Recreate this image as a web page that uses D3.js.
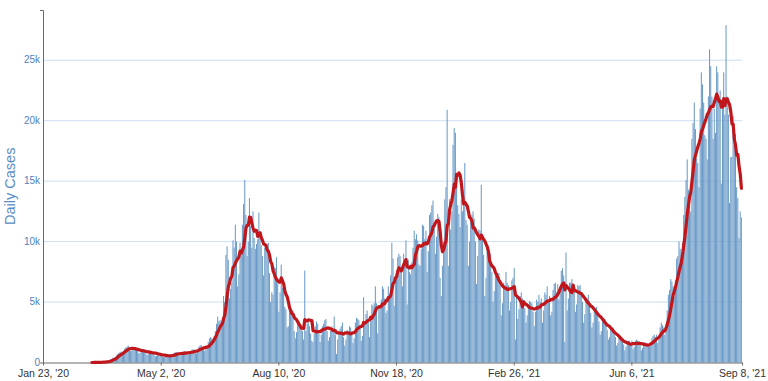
<!DOCTYPE html>
<html>
<head>
<meta charset="utf-8">
<title>Daily Cases</title>
<script src="https://cdn.jsdelivr.net/npm/d3@7"></script>
<style>
  body { margin: 0; background: #fff; }
  text { font-family: "Liberation Sans", Arial, sans-serif; }
</style>
</head>
<body>
<svg id="chart" width="768" height="381"></svg>
<script>

// first day with reported cases, values below are one per day from here
var startDate = "2020-03-01";

// daily cases, in thousands (one row = one week, Sun..Sat)
var dailyCasesK = [
  0, 0, 0, 0, 0.01, 0.01, 0.01,
  0.01, 0.01, 0.02, 0.03, 0.03, 0.04, 0.05,
  0.05, 0.07, 0.1, 0.12, 0.17, 0.24, 0.3,
  0.4, 0.35, 0.45, 0.6, 0.7, 0.8, 0.85,
  0.9, 0.75, 0.95, 1.15, 1.25, 1.3, 1.4,
  1.1, 0.95, 1.0, 1.2, 1.15, 1.2, 1.1,
  1.0, 0.75, 0.8, 1.05, 1.0, 1.1, 0.95,
  0.75, 0.6, 0.7, 0.9, 0.85, 0.95, 0.85,
  0.65, 0.5, 0.55, 0.75, 0.7, 0.75, 0.65,
  0.5, 0.45, 0.45, 0.6, 0.6, 0.65, 0.6,
  0.55, 0.5, 0.55, 0.8, 0.85, 0.85, 0.8,
  0.7, 0.55, 0.65, 0.85, 0.9, 0.95, 0.85,
  0.8, 0.65, 0.7, 0.95, 1.05, 1.1, 1.05,
  1.0, 0.75, 0.9, 1.3, 1.4, 1.45, 1.3,
  1.3, 0.95, 1.1, 1.4, 1.7, 2.0, 2.1,
  2.0, 1.8, 2.2, 2.6, 3.2, 3.8, 3.4,
  3.5, 2.9, 3.3, 5.5, 5.0, 8.9, 9.6,
  8.5, 5.3, 6.1, 6.6, 10.1, 9.5, 11.4,
  10.0, 6.3, 7.3, 9.9, 8.9, 11.4, 13.1,
  15.1, 12.2, 8.8, 10.0, 13.6, 11.3, 9.5,
  12.5, 10.3, 9.4, 9.8, 10.2, 12.4, 10.5,
  9.7, 8.8, 7.2, 9.5, 9.6, 9.8, 9.9,
  7.4, 5.0, 5.8, 5.6, 7.9, 7.8, 8.7,
  6.5, 4.2, 5.8, 8.1, 6.2, 6.1, 4.6,
  4.4, 2.9, 3.0, 4.6, 4.5, 4.3, 4.3,
  2.6, 2.0, 2.5, 3.3, 3.3, 3.2, 3.0,
  2.6, 1.9, 7.6, 2.6, 3.2, 3.7, 3.0,
  2.4, 1.8, 1.7, 2.4, 3.0, 3.4, 3.2,
  2.4, 1.7, 2.3, 3.0, 3.2, 3.5, 3.6,
  2.6, 1.8, 2.1, 2.6, 3.0, 2.8, 3.8,
  2.3, 0.7, 1.9, 2.6, 2.8, 3.0, 3.3,
  2.1, 1.4, 1.9, 2.7, 2.6, 3.0, 2.9,
  2.5, 1.6, 2.0, 3.3, 3.7, 3.6, 3.5,
  3.0, 1.8, 2.2, 5.4, 3.3, 4.0, 4.3,
  3.4, 2.1, 3.7, 4.8, 4.7, 4.9, 6.3,
  4.9, 2.4, 4.4, 4.5, 5.2, 6.3, 6.1,
  5.3, 4.1, 4.3, 6.3, 5.4, 7.2, 9.9,
  8.6, 4.7, 6.9, 7.0, 8.7, 9.0, 8.8,
  7.9, 6.3, 9.0, 8.5, 10.1, 4.8, 8.5,
  7.5, 7.3, 8.3, 9.5, 10.9, 10.2, 10.6,
  10.1, 8.1, 8.0, 9.4, 11.4, 11.3, 10.2,
  10.9, 7.5, 9.2, 12.2, 12.4, 13.0, 13.4,
  11.6, 9.0, 10.4, 12.3, 12.0, 7.0, 5.5,
  8.0, 10.0, 13.5, 14.5, 20.9, 8.0, 13.5,
  11.0, 12.5, 18.0, 19.4, 19.0, 15.5, 13.0,
  12.3, 11.2, 13.5, 12.5, 13.8, 16.5, 11.8,
  11.4, 8.0, 10.0, 12.0, 12.2, 12.5, 11.9,
  10.0, 6.5, 8.8, 11.0, 10.9, 14.7, 10.5,
  8.9, 5.5, 7.0, 9.5, 8.4, 9.0, 9.0,
  7.5, 5.0, 5.9, 7.3, 7.1, 7.4, 7.4,
  6.4, 3.9, 4.9, 6.6, 6.4, 7.5, 6.6,
  6.4, 4.3, 5.0, 6.8, 7.0, 7.8, 1.9,
  5.7, 3.6, 4.4, 5.5, 5.8, 5.3, 4.9,
  4.5, 3.3, 3.9, 4.8, 5.1, 5.0, 4.9,
  4.2, 3.0, 4.2, 5.2, 5.0, 5.6, 5.0,
  5.3, 3.3, 4.3, 5.8, 5.6, 6.3, 5.1,
  5.5, 3.9, 4.2, 6.0, 6.5, 6.6, 5.8,
  6.5, 5.2, 6.0, 7.6, 7.8, 7.2, 1.7,
  9.1, 4.3, 5.3, 6.6, 6.6, 6.9, 6.0,
  6.0, 4.2, 4.8, 6.4, 6.3, 6.4, 5.8,
  5.0, 3.3, 4.0, 5.3, 5.3, 5.6, 5.1,
  4.1, 2.9, 3.3, 4.5, 4.4, 4.6, 4.2,
  3.4, 2.3, 2.6, 3.6, 3.6, 3.6, 3.3,
  2.7, 1.9, 2.1, 2.7, 2.9, 2.9, 2.3,
  2.1, 1.4, 1.6, 2.0, 2.1, 2.1, 1.7,
  1.5, 1.0, 1.3, 1.7, 1.8, 1.8, 1.4,
  1.8, 1.1, 1.3, 1.8, 1.9, 1.8, 1.5,
  1.6, 1.0, 1.2, 1.6, 1.7, 1.6, 1.45,
  1.5, 1.3, 1.6, 2.0, 2.2, 2.3, 2.1,
  2.3, 1.6, 2.2, 2.9, 3.3, 3.1, 2.9,
  2.3, 3.2, 4.3, 5.6, 6.0, 6.9, 6.7,
  6.3, 5.4, 6.8, 8.6, 8.8, 10.0, 9.4,
  9.0, 9.9, 12.2, 13.7, 15.1, 16.8, 14.3,
  14.0, 12.5, 18.5, 19.8, 21.5, 19.3, 16.9,
  16.5, 14.5, 21.0, 24.0, 23.0, 21.5, 18.8,
  18.5, 16.8, 22.0, 25.9, 24.5, 22.0, 18.5,
  21.0, 19.0, 24.5, 24.0, 22.0, 22.5, 14.8,
  21.0, 24.0, 20.5, 27.9, 22.0, 20.5, 13.2,
  17.0, 17.0, 20.4, 19.0, 18.9, 14.5, 13.6,
  10.3, 12.5, 12.0
];

var xTickDates = ["2020-01-23", "2020-05-02", "2020-08-10", "2020-11-18", "2021-02-26", "2021-06-06", "2021-09-08"];
var yTicks = [0, 5, 10, 15, 20, 25];

var svg = d3.select("#chart");
var margin = {left: 43, right: 26, top: 10, bottom: 18.5};
var width = +svg.attr("width"), height = +svg.attr("height");

var parse = d3.utcParse("%Y-%m-%d");
var day0 = parse(startDate);

var data = dailyCasesK.map(function(v, i) {
  return {date: d3.utcDay.offset(day0, i), cases: v};
});

// 7 day trailing average
data.forEach(function(d, i) {
  var win = dailyCasesK.slice(Math.max(0, i - 6), i + 1);
  d.avg = d3.sum(win) / 7;
});

var x = d3.scaleUtc()
  .domain([parse(xTickDates[0]), parse(xTickDates[xTickDates.length - 1])])
  .range([margin.left, width - margin.right]);

var y = d3.scaleLinear()
  .domain([0, d3.max(dailyCasesK) * 1.045])
  .range([height - margin.bottom, margin.top]);

// grid lines
svg.append("g")
  .selectAll("line")
  .data(yTicks.filter(function(d) { return d > 0; }))
  .enter()
  .append("line")
    .attr("x1", margin.left)
    .attr("x2", width - margin.right)
    .attr("y1", function(d) { return y(d); })
    .attr("y2", function(d) { return y(d); })
    .attr("stroke", "#cddff0")
    .attr("stroke-width", 1);

// bars
svg.append("g")
  .selectAll("rect")
  .data(data)
  .enter()
  .append("rect")
    .attr("x", function(d) { return x(d.date); })
    .attr("width", function(d) { return x(d3.utcDay.offset(d.date, 1)) - x(d.date) - 0.15; })
    .attr("y", function(d) { return y(d.cases); })
    .attr("height", function(d) { return y(0) - y(d.cases); })
    .attr("fill", "#6a9ac7");

// y axis
var yAxis = svg.append("g")
  .attr("transform", "translate(" + margin.left + ",0)")
  .call(d3.axisLeft(y)
    .tickValues(yTicks)
    .tickSizeInner(0)
    .tickSizeOuter(3)
    .tickPadding(3)
    .tickFormat(function(d) { return d === 0 ? "0" : d + "k"; }));
yAxis.select(".domain").attr("stroke", "#6b6b6b");
yAxis.selectAll("text")
  .attr("fill", "#4f82bd")
  .attr("dy", "0.25em")
  .style("font-size", "10px");

// x axis
var xAxis = svg.append("g")
  .attr("transform", "translate(0," + y(0) + ")")
  .call(d3.axisBottom(x)
    .tickValues(xTickDates.map(parse))
    .tickSizeInner(3)
    .tickSizeOuter(0)
    .tickPadding(4)
    .tickFormat(d3.utcFormat("%b %-d, '%y")));
xAxis.select(".domain").attr("stroke", "#6b6b6b");
xAxis.selectAll(".tick line").attr("stroke", "#6b6b6b");
xAxis.selectAll("text")
  .attr("fill", "#333")
  .style("font-size", "10.5px");

// y label
svg.append("text")
  .attr("transform", "translate(15," + ((y(0) + margin.top) / 2) + ") rotate(-90)")
  .attr("text-anchor", "middle")
  .attr("fill", "#5a8dc6")
  .style("font-size", "14.5px")
  .text("Daily Cases");

// 7 day average line
var line = d3.line()
  .x(function(d) { return x(d.date) + (x(d3.utcDay.offset(d.date, 1)) - x(d.date)) / 2; })
  .y(function(d) { return y(d.avg); });

svg.append("path")
  .datum(data.slice(3))
  .attr("d", line)
  .attr("fill", "none")
  .attr("stroke", "#c0171d")
  .attr("stroke-width", 3.2)
  .attr("stroke-linejoin", "round")
  .attr("stroke-linecap", "round");

</script>
</body>
</html>
